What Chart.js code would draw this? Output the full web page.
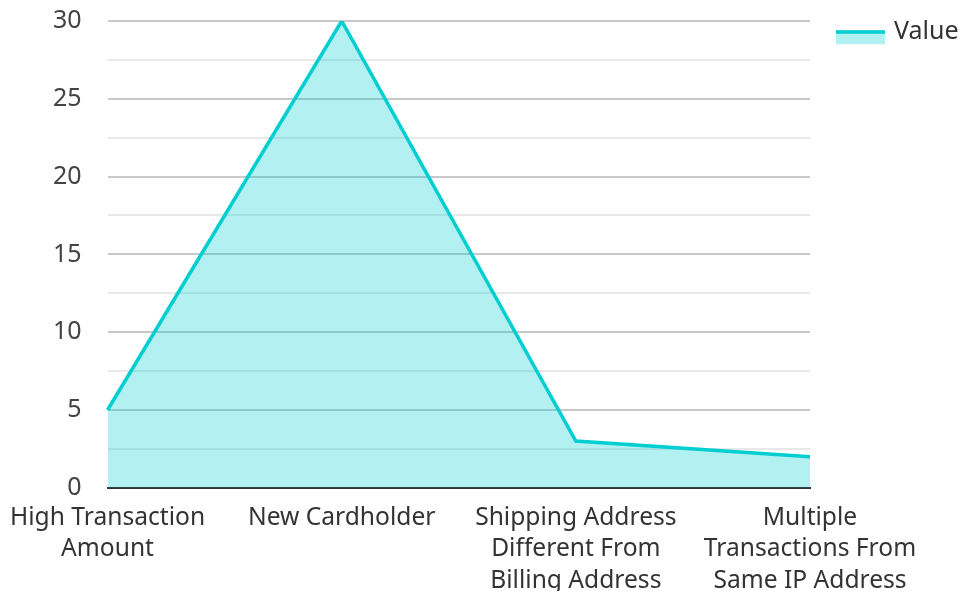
<!DOCTYPE html>
<html>
<head>
<meta charset="utf-8">
<script src="https://cdn.jsdelivr.net/npm/chart.js@4/dist/chart.umd.min.js"></script>
<style>
  html, body { margin: 0; padding: 0; background: #fff; overflow: hidden; }
  #clip { position: relative; width: 959px; height: 591px; overflow: hidden; }
  #wrap { position: absolute; left: -4px; top: -20px; width: 963px; height: 631px; }
</style>
</head>
<body>
<div id="clip"><div id="wrap"><canvas id="c"></canvas></div></div>
<script>
const categories = [
  ["High Transaction", "Amount"],
  ["New Cardholder"],
  ["Shipping Address", "Different From", "Billing Address"],
  ["Multiple", "Transactions From", "Same IP Address"]
];
const seriesName = "Value";
const values = [5, 30, 3, 2];
const yTickLabels = [0, 5, 10, 15, 20, 25, 30];

const LINE = "#00CED1";
const FILL = "rgba(0,206,209,0.30)";
const FONT = "'Noto Sans', 'Open Sans', sans-serif";

// Legend drawn to the right of the plot, at the top
const legendPlugin = {
  id: "customLegend",
  afterDraw(chart) {
    const ctx = chart.ctx;
    const area = chart.chartArea;
    const x = area.right + 26;
    const top = area.top + 9.3;
    ctx.save();
    ctx.fillStyle = FILL;
    ctx.fillRect(x, top, 49, 14);
    ctx.strokeStyle = LINE;
    ctx.lineWidth = 3.4;
    ctx.beginPath();
    ctx.moveTo(x, top + 1.7);
    ctx.lineTo(x + 49, top + 1.7);
    ctx.stroke();
    ctx.fillStyle = "#333";
    ctx.font = "25px " + FONT;
    ctx.textBaseline = "alphabetic";
    ctx.textAlign = "left";
    ctx.fillText(chart.data.datasets[0].label, x + 58, top + 9);
    ctx.restore();
  }
};

new Chart(document.getElementById("c"), {
  type: "line",
  data: {
    labels: categories,
    datasets: [{
      label: seriesName,
      data: values,
      borderColor: LINE,
      backgroundColor: FILL,
      borderWidth: 3.5,
      fill: "origin",
      tension: 0,
      pointRadius: 0,
      pointHoverRadius: 0
    }]
  },
  options: {
    responsive: true,
    maintainAspectRatio: false,
    animation: false,
    layout: { padding: { top: 5, left: 0, right: 149, bottom: 0 } },
    plugins: {
      tooltip: { enabled: false },
      legend: { display: false }
    },
    scales: {
      x: {
        offset: false,
        grid: { display: false, drawTicks: false },
        border: { display: true, color: "#333", width: 2 },
        ticks: {
          color: "#333",
          padding: 14,
          maxRotation: 0,
          autoSkip: false,
          font: { family: FONT, size: 24.6, lineHeight: 1.29 }
        }
      },
      y: {
        min: 0,
        max: 30,
        grid: {
          drawTicks: false,
          lineWidth: 2,
          color: ctx => (ctx.tick && ctx.tick.value % 5 === 0) ? "#c8c8c8" : "#e8e8e8"
        },
        border: { display: false },
        afterBuildTicks(scale) {
          const t = [];
          yTickLabels.forEach((v, i) => {
            t.push({ value: v });
            if (i < yTickLabels.length - 1) t.push({ value: (v + yTickLabels[i + 1]) / 2 });
          });
          scale.ticks = t;
        },
        ticks: {
          color: "#444",
          padding: 26,
          font: { family: FONT, size: 25 },
          callback: v => (v % 5 === 0 ? String(v) : "")
        }
      }
    }
  },
  plugins: [legendPlugin]
});
</script>
</body>
</html>
